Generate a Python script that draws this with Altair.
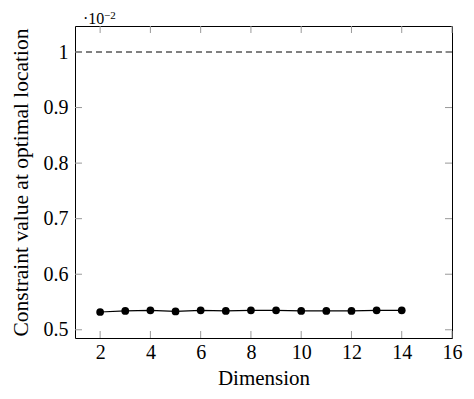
import altair as alt
import pandas as pd

# ---- data ----
dims = [2, 3, 4, 5, 6, 7, 8, 9, 10, 11, 12, 13, 14]
vals = [0.532, 0.534, 0.535, 0.533, 0.535, 0.534, 0.535, 0.535, 0.534, 0.534, 0.534, 0.535, 0.535]
x_ticks = [2, 4, 6, 8, 10, 12, 14, 16]
y_ticks = [0.5, 0.6, 0.7, 0.8, 0.9, 1.0]
threshold = [1.0]

FONT = "Liberation Serif"
W, H = 377, 312
TL = 7  # tick length
TICK_COLOR = "#999999"

xs = alt.Scale(domain=[1, 16], nice=False, zero=False)
ys = alt.Scale(domain=[0.4852, 1.0468], nice=False, zero=False)

AX_X = alt.Axis(
    values=x_ticks, title="Dimension", ticks=False, domain=False, grid=False,
    labelPadding=4, labelFont=FONT, labelFontSize=20, labelColor="black",
    titleFont=FONT, titleFontSize=21, titleFontWeight="normal", titleColor="black",
    titlePadding=5, labelFlush=False)
AX_Y = alt.Axis(
    values=y_ticks, title="Constraint value at optimal location", ticks=False,
    domain=False, grid=False, labelPadding=7, labelFont=FONT, labelFontSize=20,
    labelColor="black", titleFont=FONT, titleFontSize=21.5, titleFontWeight="normal",
    titleColor="black", titlePadding=11, labelFlush=False,
    labelExpr="datum.value == 1 ? '1' : format(datum.value, '.1f')")

df = pd.DataFrame({"dim": dims, "val": vals})
df_xt = pd.DataFrame({"t": x_ticks})
df_yt = pd.DataFrame({"t": y_ticks})
df_th = pd.DataFrame({"y": threshold})
df_one = pd.DataFrame({"a": [0]})

line = alt.Chart(df).mark_line(color="black", strokeWidth=1.2).encode(
    x=alt.X("dim:Q", scale=xs, axis=AX_X),
    y=alt.Y("val:Q", scale=ys, axis=AX_Y),
)

pts = alt.Chart(df).mark_circle(color="black", size=60, opacity=1).encode(
    x=alt.X("dim:Q", scale=xs, axis=AX_X),
    y=alt.Y("val:Q", scale=ys, axis=AX_Y),
)

dash = alt.Chart(df_th).mark_rule(color="black", strokeDash=[6, 4], strokeWidth=1).encode(
    y=alt.Y("y:Q", scale=ys, axis=AX_Y)
)

yt_left = alt.Chart(df_yt).mark_rule(color=TICK_COLOR, strokeWidth=1).encode(
    y=alt.Y("t:Q", scale=ys, axis=AX_Y), x=alt.value(0), x2=alt.value(TL))
yt_right = alt.Chart(df_yt).mark_rule(color=TICK_COLOR, strokeWidth=1).encode(
    y=alt.Y("t:Q", scale=ys, axis=AX_Y), x=alt.value(W - TL), x2=alt.value(W))
xt_bottom = alt.Chart(df_xt).mark_rule(color=TICK_COLOR, strokeWidth=1).encode(
    x=alt.X("t:Q", scale=xs, axis=AX_X), y=alt.value(H - TL), y2=alt.value(H))
xt_top = alt.Chart(df_xt).mark_rule(color=TICK_COLOR, strokeWidth=1).encode(
    x=alt.X("t:Q", scale=xs, axis=AX_X), y=alt.value(0), y2=alt.value(TL))

exp_base = alt.Chart(df_one).mark_text(
    align="left", baseline="alphabetic", font=FONT, fontSize=16, color="black"
).encode(x=alt.value(8), y=alt.value(-2), text=alt.value("·10"))
exp_sup = alt.Chart(df_one).mark_text(
    align="left", baseline="alphabetic", font=FONT, fontSize=11, color="black"
).encode(x=alt.value(29), y=alt.value(-7), text=alt.value("−2"))

chart = alt.layer(
    line, dash, yt_left, yt_right, xt_bottom, xt_top, pts, exp_base, exp_sup
).properties(
    width=W, height=H,
    autosize=alt.AutoSizeParams(type="none"),
    padding={"left": 67, "top": 18, "right": 14, "bottom": 53},
).configure_view(stroke="black", strokeWidth=1)

chart.save("out.html", embed_options={"renderer": "svg", "actions": False})
